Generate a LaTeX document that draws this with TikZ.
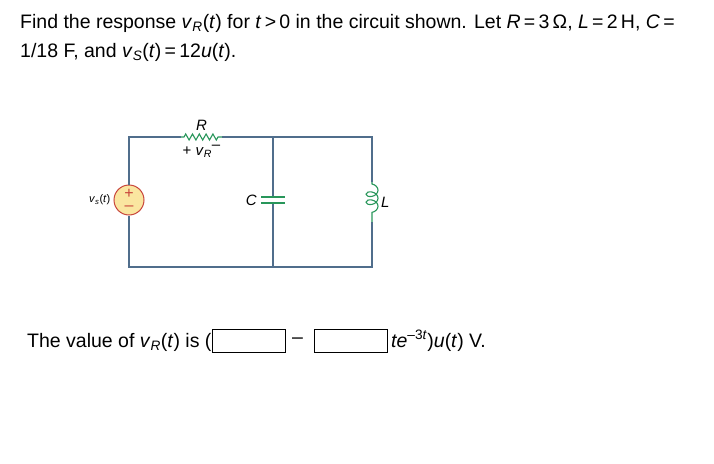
\documentclass[tikz,border=0pt]{standalone}
\usepackage{fontspec}
\setmainfont{Liberation Sans}
\usetikzlibrary{positioning,decorations.pathmorphing,calc}
\definecolor{wire}{RGB}{80,110,140}
\definecolor{elem}{RGB}{40,150,90}
\definecolor{srcfill}{RGB}{250,230,160}
\definecolor{srcline}{RGB}{200,70,60}
\newcommand{\vsub}[2]{\textit{#1}\textsubscript{\textit{#2}}}
\begin{document}
\begin{tikzpicture}[x=1pt,y=-1pt,
    txt/.style={anchor=base west,inner sep=0pt,font=\fontsize{19.5}{21}\selectfont},
    lbl/.style={inner sep=1pt,font=\fontsize{15}{17}\selectfont},
    ansbox/.style={draw,minimum width=73pt,minimum height=23pt,inner sep=0pt},
    w/.style={draw=wire,line width=1.3pt}]
    \useasboundingbox (0,0) rectangle (714,463);
    % question text
    \node[txt] (q1) at (20,28) {Find the response \vsub{v}{R}(\textit{t}) for \textit{t}\,>\,0 in the circuit shown. Let \textit{R}\,=\,3\,Ω, \textit{L}\,=\,2\,H, \textit{C}\,=};
    \node[txt] (q2) at (20,57) {1/18 F, and \vsub{v}{S}(\textit{t})\,=\,12\textit{u}(\textit{t}).};
    % corners
    \coordinate (tl) at (129,137);
    \coordinate (tm) at (273,137);
    \coordinate (tr) at (372,137);
    \coordinate (bl) at (129,267);
    \coordinate (bm) at (273,267);
    \coordinate (br) at (372,267);
    \coordinate (ra) at (181,137);
    \coordinate (rb) at (222,137);
    \coordinate (la) at (372,182);
    \coordinate (lb) at (372,222);
    \coordinate (ca) at (273,197);
    \coordinate (cb) at (273,203);
    % source
    \node[circle,draw=srcline,fill=srcfill,line width=1pt,minimum size=30pt,inner sep=0pt] (vs) at (129,200) {};
    \node[font=\fontsize{16}{16}\selectfont,text=srcline,inner sep=0pt] at ($(vs)+(0,-6)$) {+};
    \node[font=\fontsize{16}{16}\selectfont,text=srcline,inner sep=0pt] at ($(vs)+(0,8)$) {–};
    \node[lbl,left=3pt of vs,font=\fontsize{11}{13}\selectfont,inner sep=0pt] (vslbl) {\vsub{v}{s}(\textit{t})};
    % wires
    \draw[w] (vs.north) -- (tl) -- (ra);
    \draw[w] (rb) -- (tr) -- (la);
    \draw[w] (lb) -- (br) -- (bl) -- (vs.south);
    \draw[w] (tm) -- (ca);
    \draw[w] (cb) -- (bm);
    % resistor
    \draw[elem,line width=1.1pt,decorate,decoration={zigzag,segment length=6.8pt,amplitude=3pt,pre length=3pt,post length=3pt}] (ra) -- (rb);
    \node[lbl,above=5pt of $(ra)!0.5!(rb)$] (rlbl) {\textit{R}};
    \node[lbl,below=7pt of $(ra)!0.5!(rb)$] (vrlbl) {+ \vsub{v}{R}\raisebox{6pt}{–}};
    % capacitor
    \draw[elem,line width=1.3pt] ($(ca)+(-12,0)$) -- ($(ca)+(12,0)$);
    \draw[elem,line width=1.3pt] ($(cb)+(-12,0)$) -- ($(cb)+(12,0)$);
    \node[lbl,left=15pt of $(ca)!0.5!(cb)$] (clbl) {\textit{C}};
    % inductor
    \draw[elem,line width=1.1pt,decorate,decoration={coil,aspect=0.7,segment length=8pt,amplitude=6pt,pre length=2pt,post length=2pt}] (la) -- (lb);
    \node[lbl,right=8pt of $(la)!0.5!(lb)$] (llbl) {\textit{L}};
    % answer line
    \node[txt] (ans) at (27,347) {The value of \vsub{v}{R}(\textit{t}) is (};
    \node[ansbox,anchor=west] (box1) at (212,341) {};
    \node[txt,anchor=west] (minus) at (292,341) {–};
    \node[ansbox,anchor=west] (box2) at (314,341) {};
    \node[txt,anchor=base west] (tail) at (391,347) {\textit{te}\textsuperscript{–3\textit{t}})\textit{u}(\textit{t}) V.};
\end{tikzpicture}
\end{document}
